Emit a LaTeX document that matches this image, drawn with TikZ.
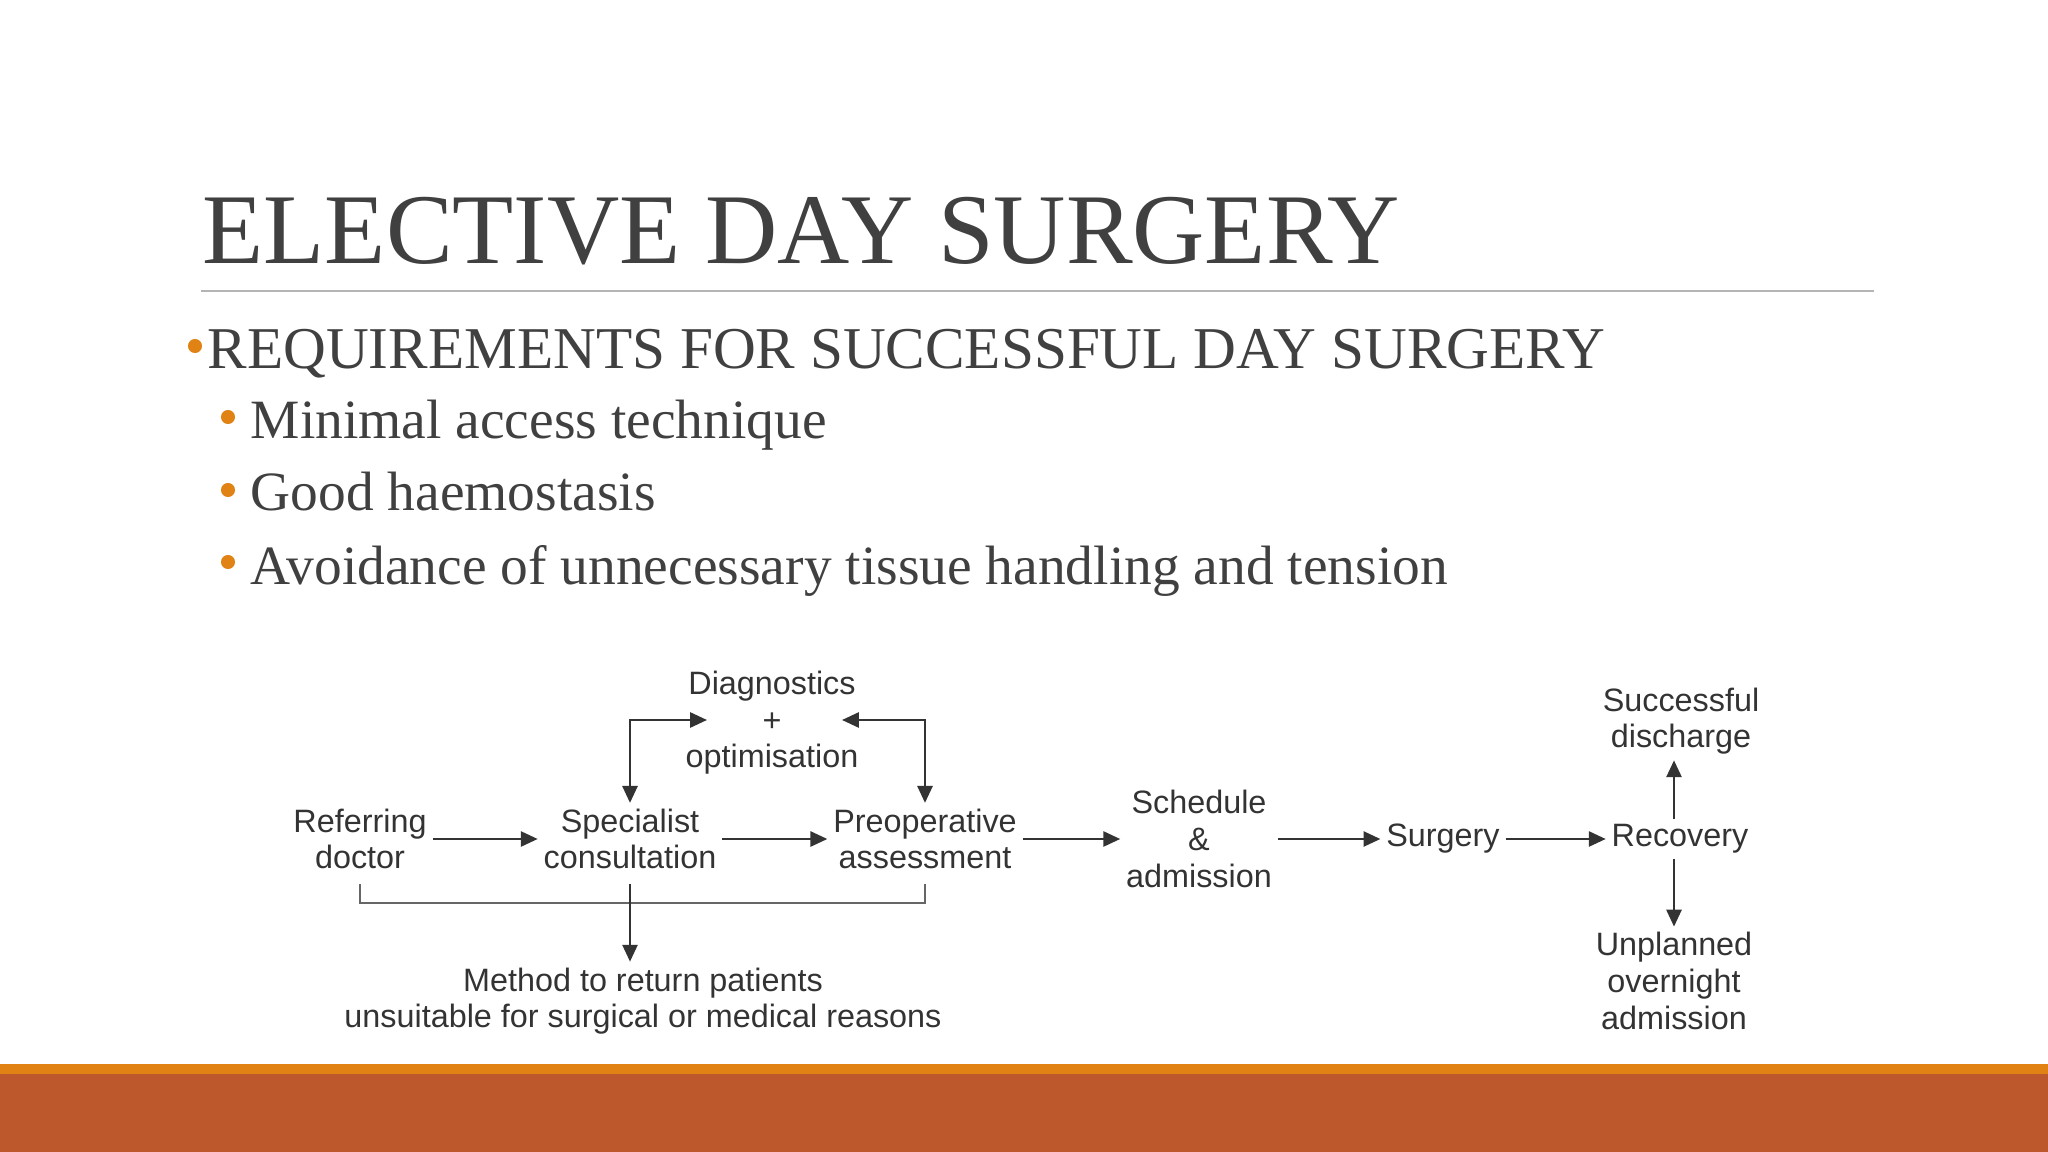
\documentclass[tikz,border=0pt]{standalone}
\usepackage{fontspec}
\setmainfont{Liberation Serif}
\newfontfamily\diagfont{Liberation Sans}
\usepackage{xcolor}
\definecolor{slidetext}{HTML}{404040}
\definecolor{accent}{HTML}{E08214}
\definecolor{rust}{HTML}{BC582C}
\definecolor{rulegray}{HTML}{B4B4B4}
\definecolor{diagtext}{HTML}{333333}
\usetikzlibrary{arrows.meta, positioning}
\tikzset{
	stage/.style={align=center, inner sep=1.5pt, text=diagtext,
	font=\diagfont\fontsize{9.2}{10.4}\selectfont}
}
\tikzset{
	flow/.style={draw=diagtext, line width=0.65pt, -{Triangle[length=4.8pt, width=4.3pt]}},
	twoway/.style={draw=diagtext, line width=0.65pt,
	{Triangle[length=4.8pt, width=4.3pt]}-{Triangle[length=4.8pt, width=4.3pt]}},
	bracket/.style={draw=diagtext!75, line width=0.6pt}
}

\begin{document}
\begin{tikzpicture}[x=0.01cm, y=-0.01cm]
		\newcommand{\rowy}{839}
		\useasboundingbox (0,0) rectangle (2048,1152);

		% footer bands
		\fill[accent] (0,1064) rectangle (2048,1074);
		\fill[rust] (0,1074) rectangle (2048,1152);

		% title
		\node[anchor=base west, inner sep=0, text=slidetext, font=\fontsize{28.45}{34}\selectfont] (title) at (202,264) {ELECTIVE DAY SURGERY};
		\draw[rulegray, line width=0.6pt] (201,291) -- (1874,291);

		% bullet list
		\fill[accent] (195,346) circle (2pt);
		\node[anchor=base west, inner sep=0, text=slidetext, font=\fontsize{16.85}{20}\selectfont] (requirements) at (207,369) {REQUIREMENTS FOR SUCCESSFUL DAY SURGERY};
		\fill[accent] (228,417) circle (2pt);
		\node[anchor=base west, inner sep=0, text=slidetext, font=\fontsize{15.77}{19}\selectfont] (access) at (250,439) {Minimal access technique};
		\fill[accent] (228,490) circle (2pt);
		\node[anchor=base west, inner sep=0, text=slidetext, font=\fontsize{15.77}{19}\selectfont] (haemostasis) at (250,511) {Good haemostasis};
		\fill[accent] (228,562) circle (2pt);
		\node[anchor=base west, inner sep=0, text=slidetext, font=\fontsize{15.77}{19}\selectfont] (handling) at (250,584) {Avoidance of unnecessary tissue handling and tension};

		% pathway stages
		\node[stage] (referring) at (360,\rowy) {Referring\\doctor};
		\node[stage] (specialist) at (630,\rowy) {Specialist\\consultation};
		\node[stage] (preop) at (925,\rowy) {Preoperative\\assessment};
		\node[stage] (schedule) at (1199,\rowy) {Schedule\\\&\\admission};
		\node[stage] (surgery) at (1443,\rowy) {Surgery};
		\node[stage] (recovery) at (1680,\rowy) {Recovery};

		% side branches
		\node[stage] (diagnostics) at (772,723) {Diagnostics\\+\\optimisation};
		\node[stage] (discharge) at (1681,721) {Successful\\discharge};
		\node[stage] (overnight) at (1674,981) {Unplanned\\overnight\\admission};
		\node[stage] (unsuitable) at (643,1001) {Method to return patients\\unsuitable for surgical or medical reasons};
		\coordinate (diagin) at (707,720);
		\coordinate (diagout) at (842,720);

		% main flow
		\draw[flow] (referring) -- (specialist);
		\draw[flow] (specialist) -- (preop);
		\draw[flow] (preop) -- (schedule);
		\draw[flow] (schedule) -- (surgery);
		\draw[flow] (surgery) -- (recovery);
		\draw[flow] (overnight.north |- recovery.north) -- (overnight.north |- discharge.south);
		\draw[flow] (overnight.north |- recovery.south) -- (overnight.north);

		% diagnostics loop
		\draw[twoway] (diagin) -| (specialist.north);
		\draw[twoway] (diagout) -| (preop.north);

		% return route
		\draw[bracket] ([yshift=-2.5pt]referring.south) -- ++(0,19) -| ([yshift=-2.5pt]preop.south);
		\draw[flow] ([yshift=-2.5pt]specialist.south) -- (specialist.south |- unsuitable.north);

	\end{tikzpicture}
\end{document}
